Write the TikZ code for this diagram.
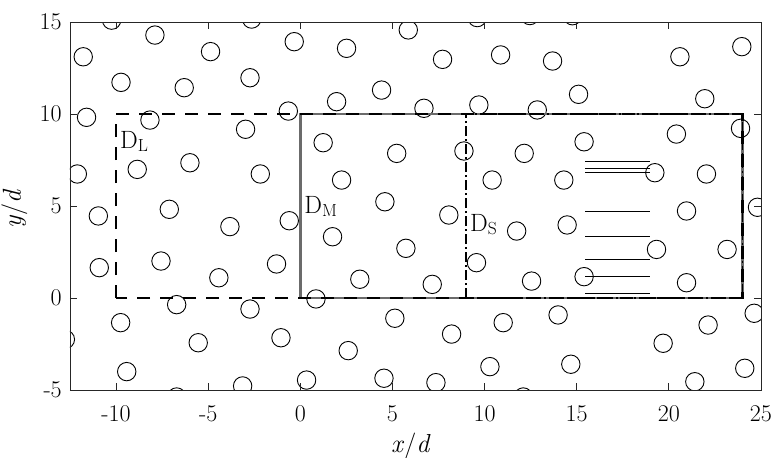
\documentclass[tikz,border=0pt]{standalone}
\newcommand{\subl}[1]{\raisebox{-3pt}{\fontsize{17.5}{19}\selectfont #1}}
\begin{document}
\begin{tikzpicture}[x=18.427pt,y=18.4pt,
  cyl/.style={draw=black, line width=0.9pt},
  axisline/.style={draw=black!85, line width=0.9pt},
  ticklab/.style={font=\fontsize{24}{28}\selectfont, inner sep=0pt},
  dlab/.style={font=\fontsize{25}{29}\selectfont, inner sep=0pt, anchor=base west},
  axlab/.style={font=\fontsize{26}{30}\selectfont, inner sep=0pt, anchor=base},
  boxL/.style={draw=black, line width=2.8pt, dash pattern=on 13pt off 10pt},
  boxM/.style={draw=black!58, line width=2.4pt},
  boxS/.style={draw=black, line width=1.6pt, dash pattern=on 10pt off 3pt on 2pt off 3pt},
  flowline/.style={draw=black, line width=0.8pt}]
\useasboundingbox (-16.297,-8.641) rectangle (26.195,16.196);
% cylinders
\begin{scope}
\clip (-12.5,-5) rectangle (25,15);
\foreach \cx/\cy in {
 -10.24/15.1, -7.89/14.29, -11.78/13.11, -4.87/13.39, -2.64/15.16, -9.73/11.72, -6.30/11.43, -2.73/11.97, -11.6/9.82, -8.16/9.67, -2.97/9.17,
 -0.33/13.93, 2.51/13.57, 5.86/14.57, 9.60/15.24, 7.72/12.97, 10.87/13.21, 4.41/11.30, 1.97/10.67, -0.65/10.16, 6.71/10.31, 9.69/10.49, 1.24/8.44, 5.23/7.86, 8.88/7.99, 12.15/7.86,
 12.46/15.35, 14.77/15.34, 13.69/12.88, 20.6/13.11, 23.96/13.66, 15.1/11.07, 21.95/10.83, 12.86/10.22, 15.4/8.49, 20.41/8.91, 23.89/9.22,
 -12.1/6.74, -8.85/6.99, -5.99/7.35, -2.17/6.74, -10.96/4.46, -7.11/4.82, -3.82/3.88, -10.91/1.65, -7.56/2.01, -4.42/1.10, -6.71/-0.36, -2.73/-0.6,
 2.24/6.41, 4.59/5.23, 8.06/4.51, 10.41/6.41, -0.6/4.2, 1.75/3.33, 5.73/2.70, 11.74/3.64, 9.56/1.92, -1.29/1.85, 3.23/1.02, 7.16/0.74, 0.85/-0.05,
 14.3/6.41, 19.24/6.81, 22.04/6.74, 20.96/4.73, 24.81/4.93, 14.48/3.97, 19.33/2.64, 23.16/2.64, 12.55/0.92, 15.4/1.16, 20.96/0.83,
 -9.75/-1.34, -12.75/-2.25, -5.54/-2.43, -9.42/-4.0, -6.71/-5.38, -3.13/-4.78,
 5.13/-1.10, -1.05/-2.16, 2.6/-2.86, 8.21/-1.96, 11.01/-1.34, 10.29/-3.73, 0.34/-4.46, 4.54/-4.36, 7.36/-4.6, 12.1/-5.38,
 13.99/-0.92, 19.69/-2.46, 22.13/-1.47, 24.63/-0.83, 14.68/-3.6, 21.41/-4.55, 24.12/-3.82}
 \draw[cyl] (\cx,\cy) circle[radius=0.5];
\end{scope}
% horizontal lines
\foreach \ly in {7.41,7.05,6.83,4.72,3.36,2.12,1.16,0.25}
 \draw[flowline] (15.45,\ly) -- (19.0,\ly);
% domains
\draw[boxM] (0,0) rectangle (24,10);
\draw[boxL] (-10,0) rectangle (24,10);
\draw[boxS] (9,0) rectangle (24,10);
\node[dlab] (DL) at (-9.79,8.15) {D\subl{L}};
\node[dlab] (DM) at (0.21,4.60) {D\subl{M}};
\node[dlab] (DS) at (9.21,3.64) {D\subl{S}};
% axes
\draw[axisline] (-12.5,-5) rectangle (25,15);
\foreach \t [count=\i] in {-10,-5,0,5,10,15,20,25} {
  \draw[axisline] (\t,-5) -- ++(0pt,7pt);
  \draw[axisline] (\t,15) -- ++(0pt,-7pt);
  \node[ticklab, anchor=north, yshift=-15pt] (xt\i) at (\t,-5) {\t};
}
\foreach \t [count=\i] in {-5,0,5,10,15} {
  \draw[axisline] (-12.5,\t) -- ++(7pt,0pt);
  \draw[axisline] (25,\t) -- ++(-7pt,0pt);
  \node[ticklab, anchor=east, xshift=-8pt] (yt\i) at (-12.5,\t) {\t};
}
\node[axlab] (xlab) at (6.0,-8.37) {\textit{x}/\textit{d}};
\node[axlab, rotate=90] (ylab) at (-15.17,4.85) {\textit{y}/\textit{d}};
\end{tikzpicture}
\end{document}
